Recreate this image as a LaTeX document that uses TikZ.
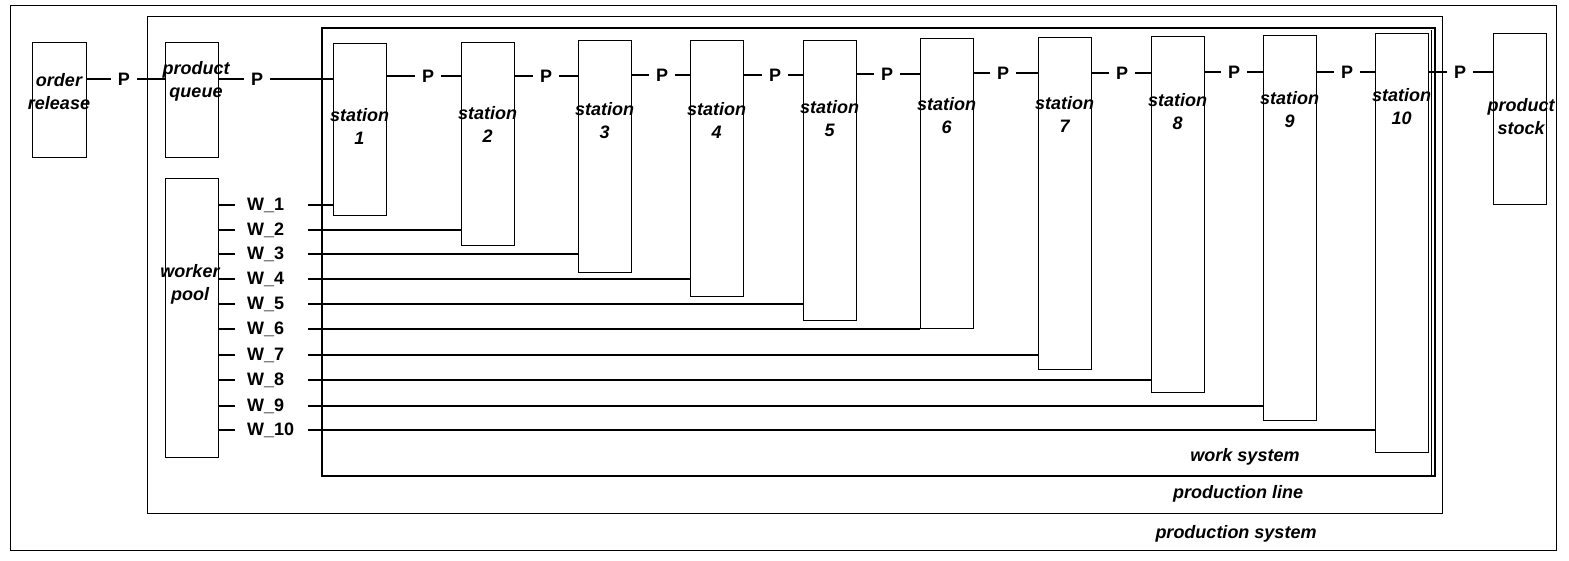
\documentclass[tikz,border=0pt]{standalone}
\usepackage{fontspec}
\setmainfont{Liberation Sans}
\begin{document}
\begin{tikzpicture}[x=1pt,y=-1pt,
  bx/.style={draw,line width=0.9pt},
  lbl/.style={font=\fontsize{18}{23}\selectfont\bfseries\itshape,align=center,inner sep=0pt},
  pl/.style={font=\fontsize{18}{20}\selectfont\bfseries,inner xsep=7pt,inner ysep=2pt},
  wl/.style={font=\fontsize{18}{20}\selectfont\bfseries,inner xsep=12pt,inner ysep=1pt},
  cn/.style={line width=2.2pt}]
\useasboundingbox (0,0) rectangle (1569,561);
\draw[bx] (10,5) rectangle (1556,550);
\draw[bx] (147,16) rectangle (1442,513);
\draw[line width=1.4pt] (322,28) rectangle (1435,476);
\draw[line width=0.9pt] (1431,30) -- (1431,476);
% boxes
\draw[bx] (32,42) rectangle (86,157);
\node[lbl] (or) at (59,92) {order\\release};
\draw[bx] (165,42) rectangle (218,157);
\node[lbl] (pq) at (196,81) {product\\queue};
\draw[bx] (165,178) rectangle (218,457);
\node[lbl] (wp) at (190,284) {worker\\pool};
\draw[bx] (1493,33) rectangle (1546,204);
\node[lbl] (ps) at (1521,117) {product\\stock};
\coordinate (orR) at (86,79);
\coordinate (pqL) at (165,79);
\coordinate (pqR) at (218,79);
\coordinate (psL) at (1493,72);
\foreach \i/\l/\t/\r/\b/\py in {1/333/43/386/215/79,2/461/42/514/245/76,3/578/40/631/272/76,4/690/40/743/296/75,5/803/40/856/320/75,6/920/38/973/328/74,7/1038/37/1091/369/73,8/1151/36/1204/392/73,9/1263/35/1316/420/72,10/1375/33/1428/452/72}{
  \draw[bx] (\l,\t) rectangle (\r,\b);
  \node[lbl] (s\i) at ({(\l+\r)/2},{\t+84-\i}) {station\\\i};
  \coordinate (sL\i) at (\l,\py);
}
\foreach \i/\r/\py in {1/386/76,2/514/76,3/631/75,4/743/75,5/856/74,6/973/73,7/1091/73,8/1204/72,9/1316/72,10/1428/72}{
  \coordinate (sR\i) at (\r,\py);
}
% P connectors
\node[pl] (p0) at (124,79) {P};
\draw[cn] (orR) -- (p0.west); \draw[cn] (p0.east) -- (pqL);
\node[pl] (p1) at (257,79) {P};
\draw[cn] (pqR) -- (p1.west); \draw[cn] (p1.east) -- (sL1);
\foreach \i/\x/\py in {1/428/76,2/546/76,3/662/75,4/775/75,5/887/74,6/1003/73,7/1122/73,8/1234/72,9/1347/72}{
  \pgfmathtruncatemacro{\j}{\i+1}
  \node[pl] (q\i) at (\x,\py) {P};
  \draw[cn] (sR\i) -- (q\i.west); \draw[cn] (q\i.east) -- (sL\j);
}
\node[pl] (q10) at (1460,72) {P};
\draw[cn] (sR10) -- (q10.west); \draw[cn] (q10.east) -- (psL);
% workers
\foreach \i/\y/\sx in {1/205/333,2/230/461,3/254/578,4/279/690,5/304/803,6/329/920,7/355/1038,8/380/1151,9/406/1263,10/430/1375}{
  \node[wl,anchor=west] (w\i) at (235,\y) {W\_\i};
  \coordinate (wp\i) at (218,\y);
  \coordinate (st\i) at (\sx,\y);
  \draw[cn] (wp\i) -- (w\i.west);
  \draw[cn] (308,\y) -- (st\i);
}
\node[lbl] (ws) at (1245,457) {work system};
\node[lbl] (pline) at (1238,494) {production line};
\node[lbl] (psys) at (1236,534) {production system};
\end{tikzpicture}
\end{document}
